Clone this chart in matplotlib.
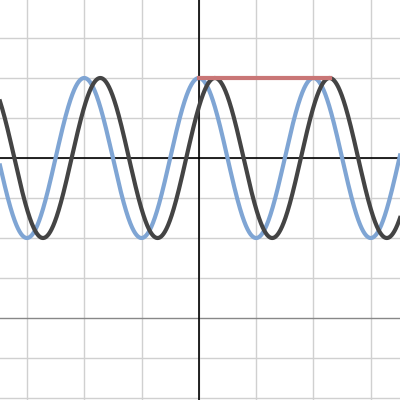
import numpy as np
import matplotlib
matplotlib.use("Agg")
import matplotlib.pyplot as plt

amplitude = 2.0
period = 2.0
phase_shift = 0.28
segment_x = [0.0, 2.29]
segment_y = [2.0, 2.0]
xlim = (-3.47, 3.51)
ylim = (-6.05, 3.95)

fig = plt.figure(figsize=(4, 4), dpi=100)
ax = fig.add_axes([0, 0, 1, 1])
ax.set_xlim(*xlim); ax.set_ylim(*ylim)
ax.axis('off')
for gx in range(-4, 5):
    ax.axvline(gx, color='#d0d0d0', lw=1, zorder=0)
for gy in range(-7, 5):
    ax.axhline(gy, color='#888888' if gy == -4 else '#d0d0d0', lw=1, zorder=0)
ax.axvline(0, color='black', lw=1.2, zorder=1)
ax.axhline(0, color='black', lw=1.2, zorder=1)

x = np.linspace(xlim[0], xlim[1], 2000)
ax.plot(x, amplitude*np.cos(2*np.pi*x/period), color='#7fa5d4', lw=3, zorder=2)
ax.plot(x, amplitude*np.cos(2*np.pi*(x-phase_shift)/period), color='#444444', lw=3, zorder=3)
ax.plot(segment_x, segment_y, color='#c97676', lw=3, zorder=4)
fig.savefig('out.png', dpi=100)
